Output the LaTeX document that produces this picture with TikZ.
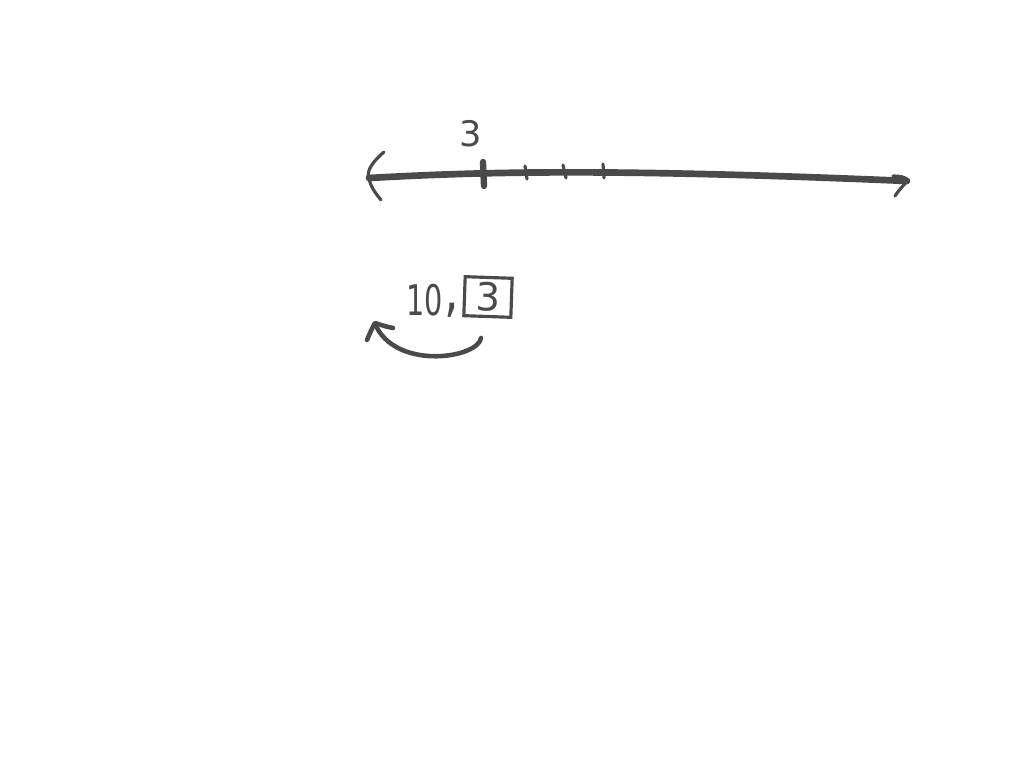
\documentclass[tikz,border=0pt]{standalone}
\usepackage{fontspec}
\setmainfont{DejaVu Sans}
\definecolor{ink}{HTML}{4A4A4A}
\tikzset{
  pen/.style={draw=ink, line width=1.3pt, line cap=round, line join=round},
  thinpen/.style={draw=ink, line width=0.9pt, line cap=round, line join=round},
  hand/.style={text=ink, inner sep=0pt, font=\fontsize{#1}{#1}\selectfont},
}
\begin{document}
\begin{tikzpicture}[x=0.01cm, y=-0.01cm]
\useasboundingbox (0,0) rectangle (1024,768);
% number line
\coordinate (L) at (369,178);
\coordinate (R) at (907,181);
\draw[pen, line width=1.9pt] (L) .. controls (480,172) and (600,168) .. (R);
% arrowheads
\draw[thinpen] (384,152) .. controls (372,162) and (366,172) .. (L) .. controls (370,186) and (376,194) .. (381,200);
\draw[thinpen] (893,176) .. controls (900,176) and (905,177) .. (908,180) .. controls (903,186) and (898,191) .. (895,196);
% ticks
\draw[pen, line width=1.8pt] (483,162) -- (484,186);
\draw[thinpen] (525,166) -- (527,179);
\draw[thinpen] (563,165) -- (566,178);
\draw[thinpen] (603,164) -- (604,178);
\node[hand=10] (t3) at (471,134) {3};
% lower group
\node[hand=12, xscale=0.68] (ten) at (425,300) {10};
\node[hand=13, yscale=1.3] (comma) at (452,310) {,};
\node[hand=11, draw=ink, line width=0.9pt, minimum width=0.47cm, minimum height=0.39cm, rotate=-2] (box) at (488,297) {3};
% curved arrow
\coordinate (cs) at (481,338);
\coordinate (ce) at (377,328);
\draw[pen] (cs) .. controls (478,358) and (400,370) .. (ce);
\draw[pen] (367,340) .. controls (370,333) and (372,328) .. (375,323) .. controls (381,325) and (387,327) .. (393,328);
\end{tikzpicture}
\end{document}
